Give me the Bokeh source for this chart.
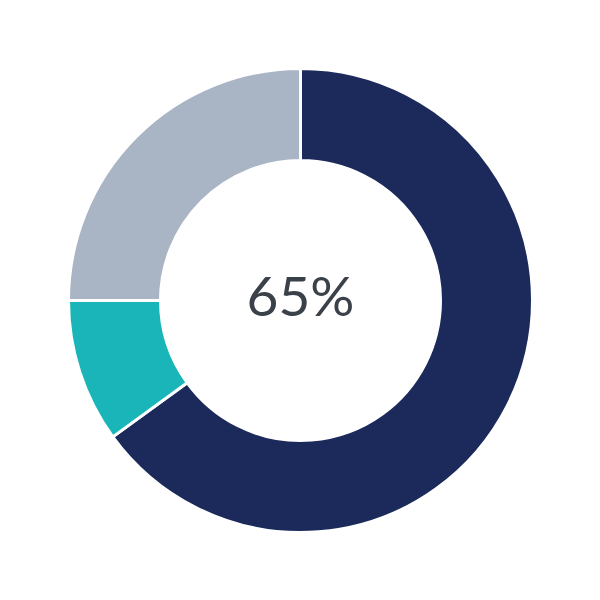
import math
from bokeh.plotting import figure
from bokeh.models import ColumnDataSource
from bokeh.core.properties import value
from bokeh.embed import file_html
from bokeh.resources import INLINE

categories = ["A", "B", "C"]
shares = [65, 10, 25]
colors = ["#1b2a5b", "#1ab5b8", "#a9b4c4"]
center_label = "65%"

total = sum(shares)
starts, ends = [], []
acc = 0.0
for s in shares:
    a0 = math.pi / 2 - 2 * math.pi * acc / total
    acc += s
    a1 = math.pi / 2 - 2 * math.pi * acc / total
    starts.append(a0)
    ends.append(a1)

src = ColumnDataSource(dict(cat=categories, val=shares, start=starts, end=ends, color=colors,
                            x=[0] * 3, y=[0] * 3))

p = figure(width=584, height=584, x_range=(-300, 284), y_range=(-284, 300),
           output_backend="svg", toolbar_location=None, min_border=0)
p.axis.visible = False
p.grid.visible = False
p.outline_line_color = None
p.background_fill_color = "white"
p.border_fill_color = "white"

p.annular_wedge(x="x", y="y", inner_radius=140, outer_radius=232,
                start_angle="start", end_angle="end", direction="clock",
                fill_color="color", line_color="white", line_width=3, source=src)

p.text(x=[0], y=[6], text=[center_label], text_align="center", text_baseline="middle",
       text_font=value("Lato"), text_font_size="55px", text_color="#3b4149")

open("out.html", "w").write(file_html(p, INLINE))
